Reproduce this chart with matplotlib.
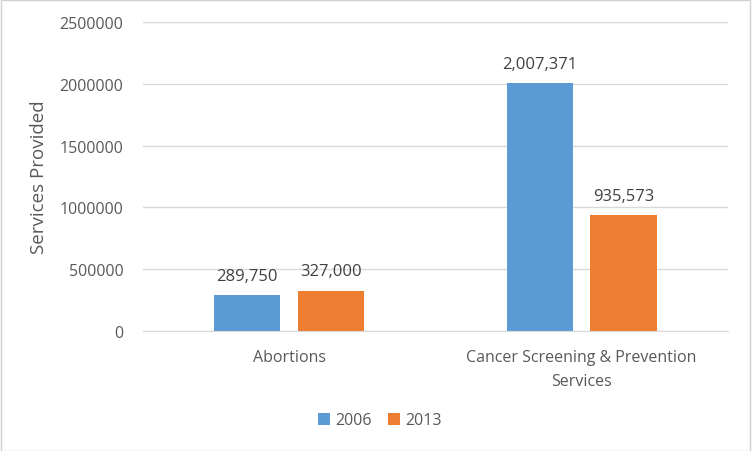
import os
os.environ.setdefault("MPLCONFIGDIR", "/tmp/matplotlib")
import numpy as np
import matplotlib.pyplot as plt
from matplotlib.patches import Rectangle

categories = ["Abortions", "Cancer Screening & Prevention\nServices"]
years = ["2006", "2013"]
values_2006 = [289750, 2007371]
values_2013 = [327000, 935573]
y_ticks = [0, 500000, 1000000, 1500000, 2000000, 2500000]

colors = ["#5B9BD5", "#ED7D31"]
text_gray = "#595959"
grid_gray = "#D9D9D9"

plt.rcParams["font.family"] = ["Open Sans", "DejaVu Sans"]

fig = plt.figure(figsize=(7.52, 4.52), dpi=100)
ax = fig.add_axes([0.190, 0.2655, 0.778, 0.6835])

x = np.arange(len(categories))
width = 0.226
offset = 0.143
for i, (vals, yr) in enumerate(zip([values_2006, values_2013], years)):
    pos = x + (-offset if i == 0 else offset)
    bars = ax.bar(pos, vals, width, color=colors[i], label=yr, zorder=3)
    for b, v in zip(bars, vals):
        ax.annotate(f"{v:,}", (b.get_x() + b.get_width() / 2, v),
                    xytext=(0, 8), textcoords="offset points",
                    ha="center", va="bottom", fontsize=12, color="#404040")

ax.set_xlim(-0.5, 1.5)
ax.set_ylim(0, 2500000)
ax.set_yticks(y_ticks)
ax.set_yticklabels([str(t) for t in y_ticks])
ax.set_xticks(x)
ax.set_xticklabels(categories, linespacing=1.65)
ax.tick_params(axis="both", length=0, labelsize=11.5, labelcolor=text_gray)
ax.tick_params(axis="y", pad=14)
ax.tick_params(axis="x", pad=13)
ax.grid(axis="y", color=grid_gray, linewidth=1, zorder=0)
for s in ["top", "right", "left"]:
    ax.spines[s].set_visible(False)
ax.spines["bottom"].set_color(grid_gray)
ax.spines["bottom"].set_zorder(4)
ax.set_ylabel("Services Provided", fontsize=13.5, color=text_gray, labelpad=8)

fig.legend(loc="center", bbox_to_anchor=(0.505, 0.068), ncol=2, frameon=False,
           fontsize=11.5, handlelength=0.75, handleheight=0.75,
           handletextpad=0.35, columnspacing=1.0, labelcolor=text_gray)

fig.patches.append(Rectangle((0.001, 0.001), 0.997, 0.996, transform=fig.transFigure,
                             fill=False, edgecolor="#D0D0D0", linewidth=1))

fig.savefig("out.png", dpi=100)
